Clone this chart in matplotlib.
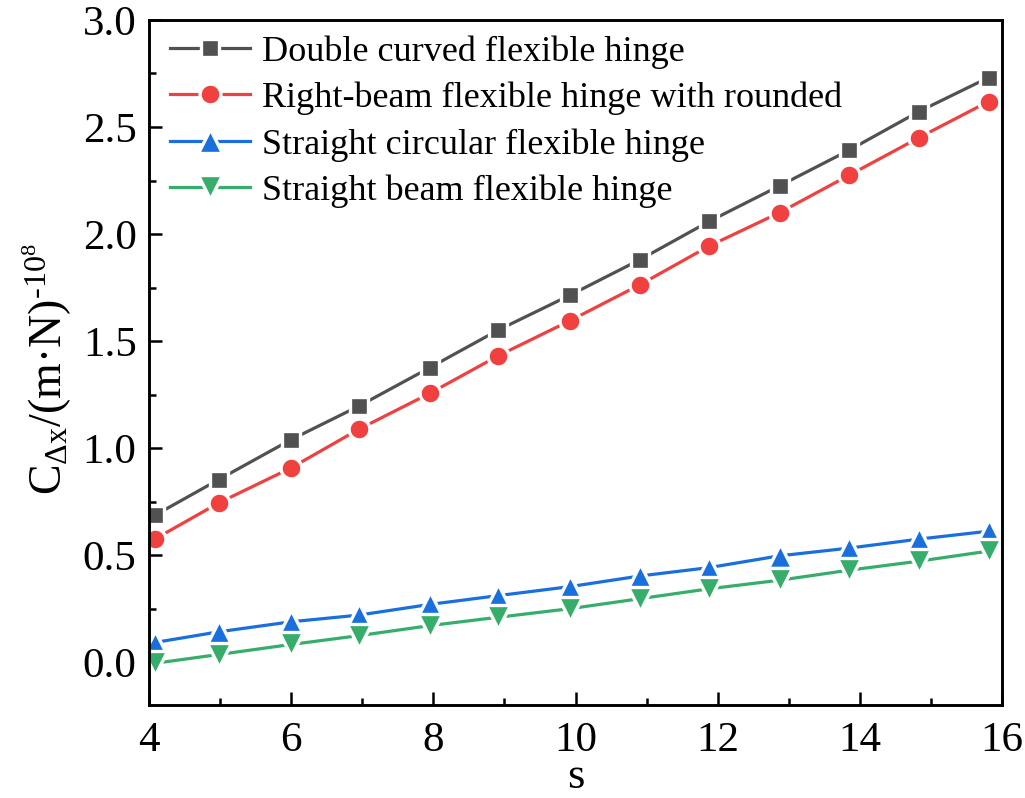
import numpy as np
import matplotlib
matplotlib.use("Agg")
import matplotlib.pyplot as plt

plt.rcParams['font.family'] = ['Liberation Serif', 'DejaVu Serif']
plt.rcParams['mathtext.fontset'] = 'custom'
plt.rcParams['mathtext.rm'] = 'Liberation Serif'
plt.rcParams['mathtext.it'] = 'Liberation Serif:italic'

# values
s = [4.08, 4.98, 6.0, 6.95, 7.95, 8.91, 9.92, 10.91, 11.88, 12.87, 13.85, 14.83, 15.81]
double_curved = [0.686, 0.853, 1.04, 1.196, 1.376, 1.551, 1.714, 1.881, 2.059, 2.225, 2.392, 2.572, 2.731]
right_beam = [0.575, 0.744, 0.908, 1.088, 1.256, 1.431, 1.595, 1.764, 1.944, 2.10, 2.275, 2.45, 2.619]
straight_circ = [0.092, 0.142, 0.189, 0.22, 0.27, 0.311, 0.353, 0.403, 0.442, 0.497, 0.533, 0.575, 0.612]
straight_beam = [-0.005, 0.036, 0.083, 0.124, 0.171, 0.21, 0.25, 0.297, 0.343, 0.383, 0.43, 0.472, 0.519]

labels = ['Double curved flexible hinge',
          'Right-beam flexible hinge with rounded',
          'Straight circular flexible hinge',
          'Straight beam flexible hinge']
colors = ['#515151', '#F14040', '#1A6FDF', '#37AD6B']
markers = ['s', 'o', '^', 'v']
msizes = [13, 15, 17, 17]

fig = plt.figure(figsize=(10.25, 7.98), dpi=100)
ax = fig.add_axes([0.1454, 0.1165, 0.8322, 0.8585])

for ys, lab, c, m, ms in zip([double_curved, right_beam, straight_circ, straight_beam],
                             labels, colors, markers, msizes):
    ax.plot(s, ys, color=c, lw=2.3, marker=m, ms=ms, mfc=c,
            mec='white', mew=2.4, label=lab)

ax.set_xlim(4, 16)
ax.set_ylim(-0.2, 3.0)
ax.set_xticks(np.arange(4, 17, 2))
ax.set_xticks(np.arange(5, 16, 2), minor=True)
ax.set_yticks(np.arange(0, 3.01, 0.5))
ax.set_yticks(np.arange(0.25, 3.0, 0.5), minor=True)
ax.set_yticklabels(['%.1f' % v for v in np.arange(0, 3.01, 0.5)])

ax.tick_params(which='both', direction='in', top=False, right=False, labelsize=31, width=1.8)
ax.tick_params(which='major', length=9.5)
ax.tick_params(axis='x', which='major', pad=12)
ax.tick_params(axis='y', which='major', pad=9)
ax.tick_params(which='minor', length=5)
for sp in ax.spines.values():
    sp.set_linewidth(2.1)

ax.set_xlabel('s', fontsize=32, labelpad=-2)
ax.set_ylabel('$\\mathregular{C_{\\Delta x}/(m\u00b7N)^{\u201010^{8}}}$', fontsize=33)
ax.yaxis.set_label_coords(-0.088, 0.49)

ax.legend(loc='upper left', bbox_to_anchor=(0.025, 0.978), frameon=False,
          fontsize=26, numpoints=1, handlelength=2.2, handletextpad=0.35,
          labelspacing=0.36, borderpad=0, borderaxespad=0)

fig.savefig('out.png', dpi=100)
